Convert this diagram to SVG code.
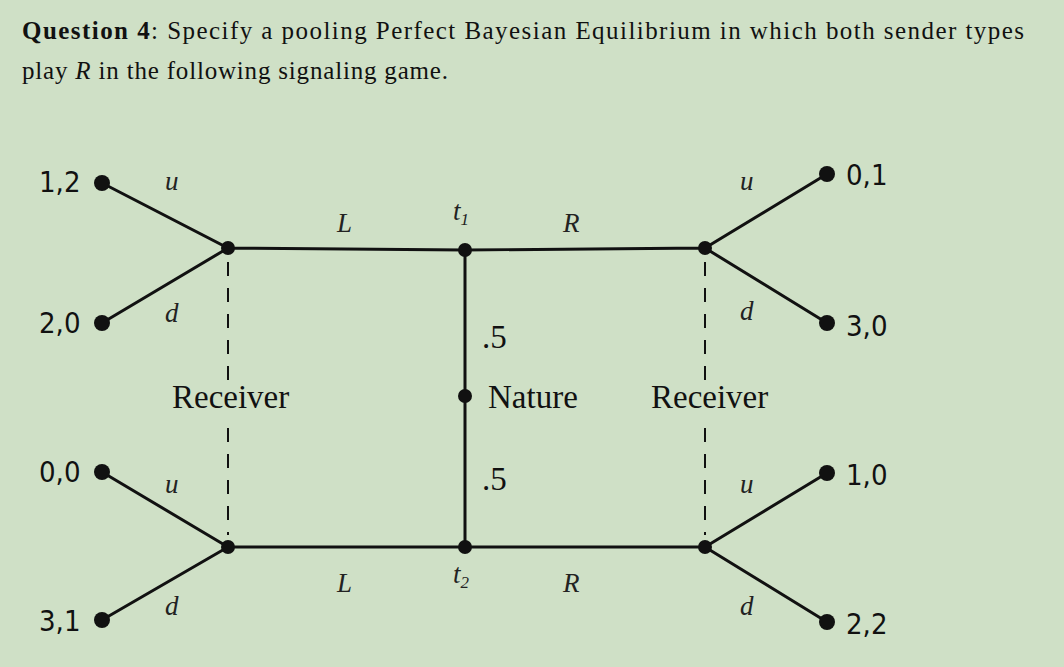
<svg xmlns="http://www.w3.org/2000/svg" width="1064" height="667" viewBox="0 0 1064 667">
<style>
.t{font-family:"Liberation Serif",serif;font-size:25px;fill:#111}
.i{font-family:"Liberation Serif",serif;font-style:italic;font-size:27px;fill:#222}
.r{font-family:"Liberation Serif",serif;font-size:33px;fill:#111}
.p{font-family:"DejaVu Sans Condensed","DejaVu Sans",sans-serif;font-size:29px;fill:#111}
.e{stroke:#111;stroke-width:3;fill:none}
.ds{stroke:#111;stroke-width:2;stroke-dasharray:14,12;fill:none}
</style>
<rect width="1064" height="667" fill="#cfe0c6"/>
<text class="t" x="22" y="39" textLength="1002" lengthAdjust="spacing"><tspan font-weight="bold">Question 4</tspan>: Specify a pooling Perfect Bayesian Equilibrium in which both sender types</text>
<text class="t" x="22" y="79" textLength="426" lengthAdjust="spacing">play <tspan font-style="italic">R</tspan> in the following signaling game.</text>
<g id="edges">
<path class="e" d="M102 183L228 248L465 250L705 248L827 174M102 323L228 248M705 248L827 323M465 250V547M228 547H705M102 472L228 547M102 620L228 547M705 547L827 473M705 547L827 622"/>
<path class="ds" d="M228 262V382M228 428V535M705 262V382M705 428V535"/>
</g>
<g id="nodes" fill="#111">
<circle cx="228" cy="248" r="7"/><circle cx="465" cy="250" r="7"/><circle cx="705" cy="248" r="7"/>
<circle cx="228" cy="547" r="7"/><circle cx="465" cy="547" r="7"/><circle cx="705" cy="547" r="7"/>
<circle cx="465" cy="396" r="7"/>
<circle cx="102" cy="183" r="8"/><circle cx="102" cy="323" r="8"/><circle cx="102" cy="472" r="8"/><circle cx="102" cy="620" r="8"/>
<circle cx="827" cy="174" r="8"/><circle cx="827" cy="323" r="8"/><circle cx="827" cy="473" r="8"/><circle cx="827" cy="622" r="8"/>
</g>
<g id="labels">
<text class="p" x="39" y="192">1,2</text><text class="p" x="39" y="333">2,0</text>
<text class="p" x="39" y="482">0,0</text><text class="p" x="39" y="631">3,1</text>
<text class="p" x="846" y="185">0,1</text><text class="p" x="846" y="336">3,0</text>
<text class="p" x="846" y="485">1,0</text><text class="p" x="846" y="634">2,2</text>
<text class="i" x="165" y="190">u</text><text class="i" x="165" y="322">d</text>
<text class="i" x="165" y="493">u</text><text class="i" x="165" y="615">d</text>
<text class="i" x="740" y="190">u</text><text class="i" x="740" y="320">d</text>
<text class="i" x="740" y="493">u</text><text class="i" x="740" y="615">d</text>
<text class="i" x="337" y="232">L</text><text class="i" x="563" y="232">R</text>
<text class="i" x="337" y="592">L</text><text class="i" x="563" y="592">R</text>
<text class="i" x="453" y="220">t<tspan font-size="17" dy="5">1</tspan></text>
<text class="i" x="453" y="583">t<tspan font-size="17" dy="5">2</tspan></text>
<text class="r" x="482" y="348">.5</text><text class="r" x="482" y="490">.5</text>
<text class="r" x="488" y="408">Nature</text>
<text class="r" x="172" y="408">Receiver</text><text class="r" x="651" y="408">Receiver</text>
</g>
</svg>
